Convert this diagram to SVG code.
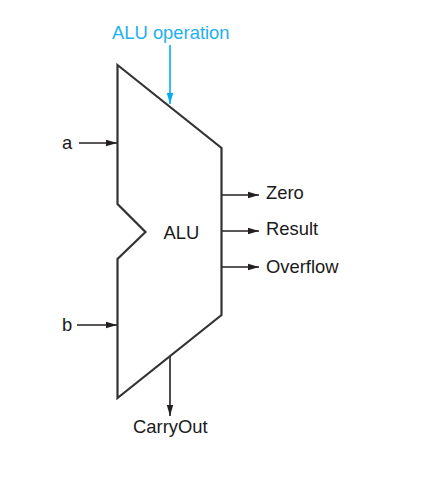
<svg xmlns="http://www.w3.org/2000/svg" width="424" height="486" viewBox="0 0 424 486">
<style>
text{font-family:"Liberation Sans",Arial,sans-serif;font-size:18.4px;fill:#1a1a1a}
.c{fill:none;stroke:#231f20;stroke-width:1.6}
.b{fill:none;stroke:#00aeef;stroke-width:1.6}
</style>
<defs>
<marker id="ak" markerUnits="userSpaceOnUse" markerWidth="12" markerHeight="8" refX="11" refY="4" orient="auto"><path d="M0 .8L11 4L0 7.2z" fill="#231f20"/></marker>
<marker id="ab" markerUnits="userSpaceOnUse" markerWidth="12" markerHeight="8" refX="11" refY="4" orient="auto"><path d="M0 .8L11 4L0 7.2z" fill="#00aeef"/></marker>
</defs>
<rect width="424" height="486" fill="#fff"/>
<g id="connectors">
<path class="b" d="M170 45V104" marker-end="url(#ab)"/>
<path class="c" d="M79 143H117" marker-end="url(#ak)"/>
<path class="c" d="M77 325H117" marker-end="url(#ak)"/>
<path class="c" d="M170 356V416" marker-end="url(#ak)"/>
<path class="c" d="M222 195H259" marker-end="url(#ak)"/>
<path class="c" d="M222 231H259" marker-end="url(#ak)"/>
<path class="c" d="M222 267H259" marker-end="url(#ak)"/>
</g>
<g id="alu">
<path d="M117.5 65L221.5 148V315L117.5 398V259L145.5 232L117.5 204Z" fill="none" stroke="#333" stroke-width="2.2"/>
<text x="163.5" y="238.500">ALU</text>
</g>
<g id="alu-operation"><text x="112" y="38.500" style="fill:#1fb0ef">ALU operation</text></g>
<g id="a"><text x="62" y="149">a</text></g>
<g id="b"><text x="62" y="331">b</text></g>
<g id="zero"><text x="266" y="199">Zero</text></g>
<g id="result"><text x="266" y="235">Result</text></g>
<g id="overflow"><text x="266" y="273">Overflow</text></g>
<g id="carryout"><text x="133" y="433">CarryOut</text></g>
</svg>
